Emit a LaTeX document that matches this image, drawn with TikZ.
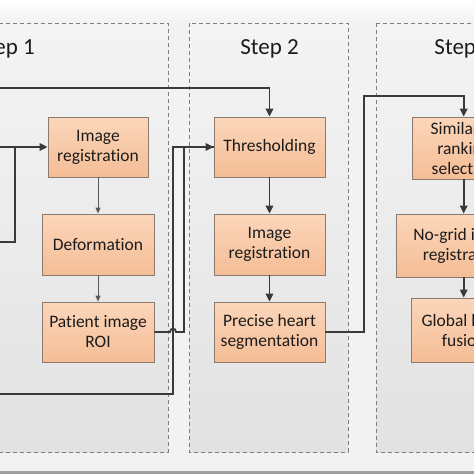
\documentclass[tikz,border=0pt]{standalone}
\usepackage{fontspec}
\setmainfont{Carlito}[Ligatures=NoCommon]
\usetikzlibrary{arrows.meta}
\definecolor{boxtop}{HTML}{FBD6BA}
\definecolor{boxbot}{HTML}{F5BD96}
\definecolor{boxline}{HTML}{8C7A6E}
\definecolor{panline}{HTML}{7F7F7F}
\definecolor{pantop}{HTML}{F4F4F4}
\definecolor{panbot}{HTML}{E2E2E2}
\definecolor{bgcol}{HTML}{F2F2F2}
\definecolor{barcol}{HTML}{A0A0A0}
\definecolor{conncol}{HTML}{3A3A3A}
\definecolor{thincol}{HTML}{5A5A5A}
\definecolor{txtcol}{HTML}{1C1C1C}
\begin{document}
\begin{tikzpicture}[x=1pt,y=-1pt,
  stepbox/.style={draw=boxline,line width=0.8pt,top color=boxtop,bottom color=boxbot,
    inner sep=0pt,align=center,text=txtcol,font=\fontsize{17.5}{20}\selectfont},
  panel/.style={draw=panline,dashed,dash pattern=on 4pt off 3pt,line width=0.9pt,
    top color=pantop,bottom color=panbot},
  steplabel/.style={anchor=base,text=txtcol,font=\fontsize{23}{26}\selectfont,inner sep=0pt},
  conn/.style={draw=conncol,line width=1.8pt},
  connarrow/.style={conn,-{Triangle[length=8pt,width=7.5pt]}},
  thinarrow/.style={draw=thincol,line width=0.9pt,-{Triangle[length=6pt,width=5pt]}}
]
\useasboundingbox (0,0) rectangle (474,474);
% background
\fill[bgcol] (0,0) rectangle (474,474);
\fill[top color=white,bottom color=bgcol] (0,0) rectangle (474,22);
\fill[barcol] (0,471) rectangle (474,474);
% panels
\draw[panel] (-160,23) rectangle (168,452);
\draw[panel] (189,23) rectangle (348,452);
\draw[panel] (376,23) rectangle (551,452);
\node[steplabel] (s1) at (5.5,54.5) {Step 1};
\node[steplabel] (s2) at (269.5,54.5) {Step 2};
\node[steplabel] (s3) at (463.7,54.5) {Step 3};
% boxes
\node[stepbox,minimum width=100pt,minimum height=60pt] (reg1) at (98,147) {Image\\registration};
\node[stepbox,minimum width=112pt,minimum height=61pt] (def) at (98,244.5) {Deformation};
\node[stepbox,minimum width=112pt,minimum height=60pt] (roi) at (98,332) {Patient image\\ROI};
\node[stepbox,minimum width=111pt,minimum height=60pt] (thresh) at (269.5,147) {Thresholding};
\node[stepbox,minimum width=111pt,minimum height=61pt] (reg2) at (269.5,244.5) {Image\\registration};
\node[stepbox,minimum width=111pt,minimum height=60pt] (seg) at (269.5,332) {Precise heart\\segmentation};
\node[stepbox,minimum width=103.4pt,minimum height=62pt] (sim) at (463.7,148) {Similarity\\ranking\\selection};
\node[stepbox,minimum width=135.4pt,minimum height=63pt] (nogrid) at (463.7,245.5) {No-grid image\\registration};
\node[stepbox,minimum width=105.4pt,minimum height=64pt] (glob) at (463.7,330) {Global label\\fusion};
% coordinates
\coordinate (inA) at (-5,88);
\coordinate (inB) at (-5,147);
\coordinate (inC) at (-5,242);
\coordinate (inD) at (-5,394);
\coordinate (j1) at (15,147);
\coordinate (j2) at (173,147);
\coordinate (h1) at (170,332);
\coordinate (h2) at (176,332);
\coordinate (j3) at (184,332);
\coordinate (j4) at (363.7,96);
% connectors
\draw[connarrow] (inA) -| (thresh.north);
\draw[connarrow] (inB) -- (reg1.west);
\draw[conn] (inC) -| (j1);
\draw[conn] (inD) -| (j2) -- (thresh.west);
\draw[connarrow] (roi.east) -- (h1) .. controls (170,327.5) and (176,327.5) .. (h2) -- (j3) -- (j3 |- thresh.west) -- (thresh.west);
\draw[connarrow] (seg.east) -| (j4) -| (sim.north);
\draw[thinarrow] (reg1.south) -- (def.north);
\draw[thinarrow] (def.south) -- (roi.north);
\draw[connarrow] (thresh.south) -- (reg2.north);
\draw[connarrow] (reg2.south) -- (seg.north);
\draw[connarrow] (sim.south) -- (nogrid.north);
\draw[connarrow] (nogrid.south) -- (glob.north);
\end{tikzpicture}
\end{document}
